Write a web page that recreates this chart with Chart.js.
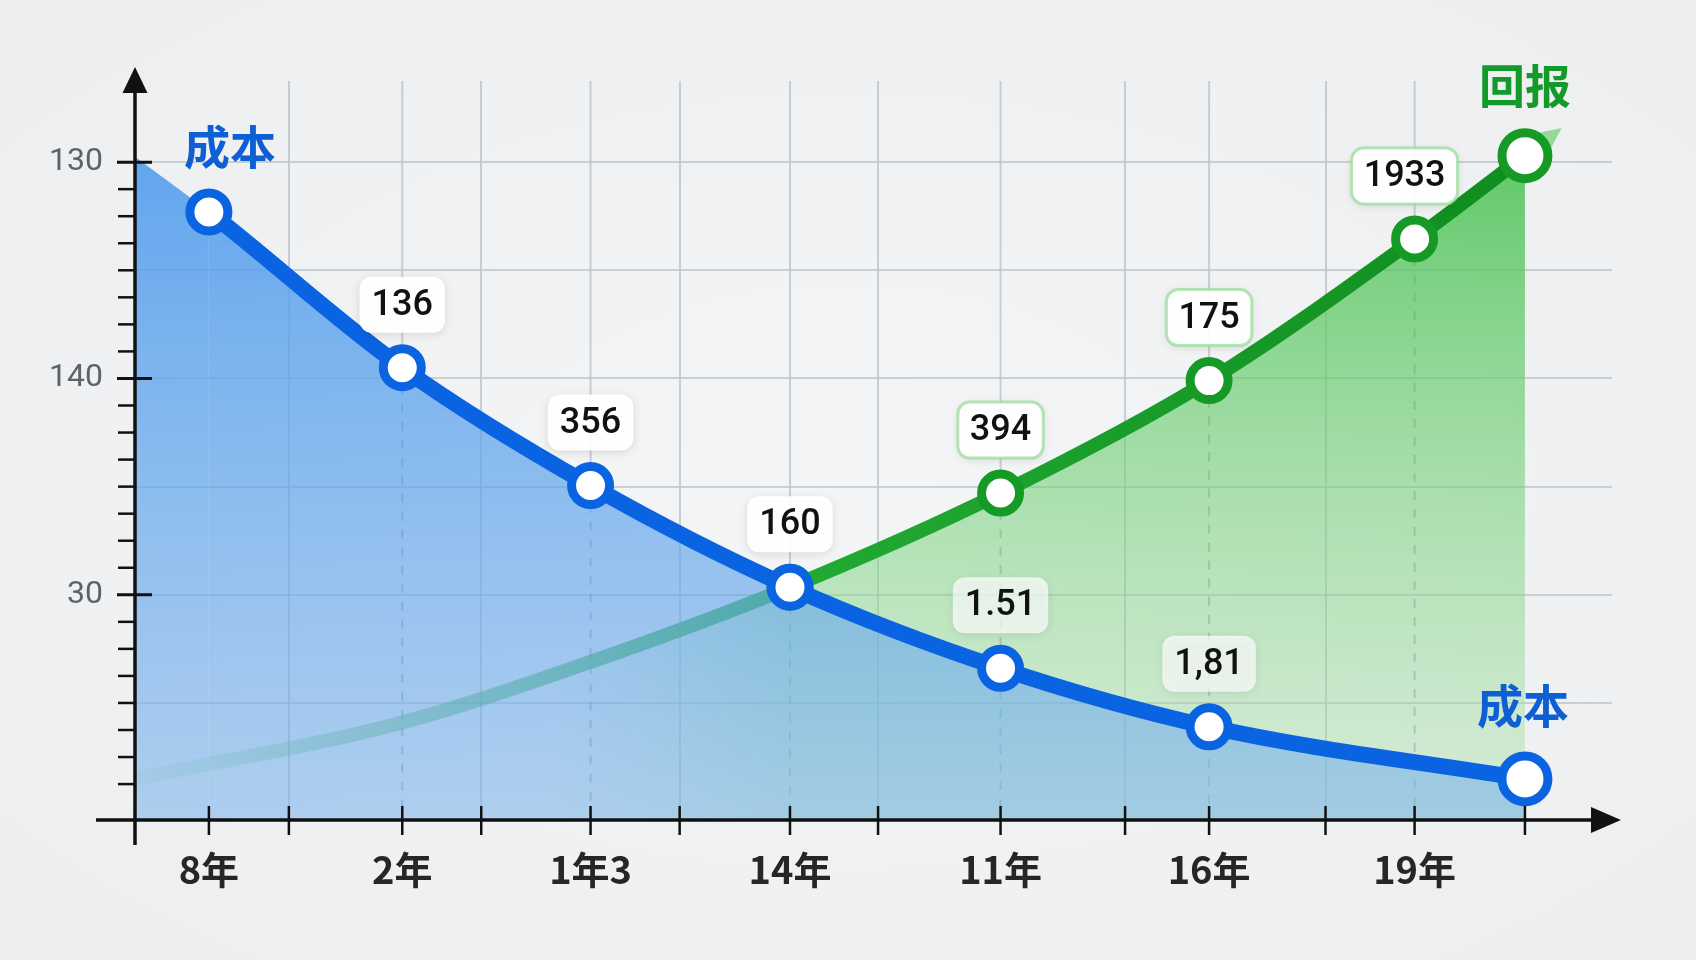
<!DOCTYPE html>
<html lang="zh">
<head>
<meta charset="utf-8">
<title>成本与回报</title>
<script src="https://cdn.jsdelivr.net/npm/chart.js@4.4.1/dist/chart.umd.min.js"></script>
<style>
  html, body { margin: 0; padding: 0; }
  body { background: radial-gradient(ellipse at center, #f4f5f6 0%, #eceeef 100%); }
  #wrap { width: 1696px; height: 960px; position: relative; }
</style>
</head>
<body>
<div id="wrap"><canvas id="chart"></canvas></div>
<script>
// year axis positions (first one = where both curves leave the vertical axis)
const years = [-0.73, 0, 1.91, 3.77, 5.74, 7.82, 9.88, 11.91, 13];
const yearLabels = ['', '8年', '2年', '1年3', '14年', '11年', '16年', '19年', ''];
const costValues = [50.25, 47.7, 40.5, 35.05, 30.35, 26.6, 23.9, null, 21.49];
const returnValues = [21.49, null, 24.1, 26.9, 30.35, 34.7, 39.9, 46.45, 50.3];
const costTags = ['', '', '136', '356', '160', '1.51', '1,81', '', ''];
const returnTags = ['', '', '', '', '', '394', '175', '1933', ''];
// extra grid positions between the labelled years
const gridYears = [0.79, 2.69, 4.65, 6.61, 9.05, 11.03];
const yTickValues = [30, 40, 50];
const yTickLabels = ['30', '140', '130'];

const BLUE = '#0a64e1';
const GREEN = '#1aa22b';
const last = years.length - 1;

function blueFill(context) {
    const chart = context.chart, a = chart.chartArea;
    if (!a) return 'rgba(90,160,236,0.7)';
    const g = chart.ctx.createLinearGradient(0, a.top, 0, a.bottom);
    g.addColorStop(0, 'rgba(66,148,237,0.88)');
    g.addColorStop(1, 'rgba(120,178,236,0.55)');
    return g;
}

function greenFill(context) {
    const chart = context.chart, a = chart.chartArea;
    if (!a) return 'rgba(80,190,80,0.5)';
    const c = document.createElement('canvas');
    c.width = chart.width; c.height = chart.height;
    const g = c.getContext('2d');
    const v = g.createLinearGradient(0, a.top + 60, 0, a.bottom);
    v.addColorStop(0, 'rgba(60,190,70,0.82)');
    v.addColorStop(1, 'rgba(170,225,170,0.35)');
    g.fillStyle = v;
    g.fillRect(0, 0, c.width, c.height);
    g.globalCompositeOperation = 'destination-in';
    const xs = chart.scales.x;
    const h = g.createLinearGradient(xs.getPixelForValue(3.4), 0, xs.getPixelForValue(5.74), 0);
    h.addColorStop(0, 'rgba(0,0,0,0)');
    h.addColorStop(1, 'rgba(0,0,0,1)');
    g.fillStyle = h;
    g.fillRect(0, 0, c.width, c.height);
    return chart.ctx.createPattern(c, 'no-repeat');
}

function greenStroke(context) {
    const chart = context.chart, a = chart.chartArea;
    if (!a) return GREEN;
    const xs = chart.scales.x;
    const g = chart.ctx.createLinearGradient(a.left, 0, a.right, 0);
    const mid = (xs.getPixelForValue(5.74) - a.left) / (a.right - a.left);
    g.addColorStop(0, 'rgba(27,163,43,0.05)');
    g.addColorStop(mid * 0.6, 'rgba(27,163,43,0.55)');
    g.addColorStop(mid, '#22aa33');
    g.addColorStop(1, '#0d8a1d');
    return g;
}

function drawTag(ctx, text, cx, cy, fill, stroke) {
    ctx.font = '500 36px Roboto';
    const w = ctx.measureText(text).width + 24, h = 56;
    ctx.save();
    ctx.shadowColor = 'rgba(0,0,0,0.12)';
    ctx.shadowBlur = 10;
    ctx.shadowOffsetY = 2;
    ctx.fillStyle = fill;
    ctx.beginPath();
    ctx.roundRect(cx - w / 2, cy - h / 2, w, h, 12);
    ctx.fill();
    ctx.restore();
    if (stroke) {
        ctx.strokeStyle = stroke;
        ctx.lineWidth = 3;
        ctx.beginPath();
        ctx.roundRect(cx - w / 2, cy - h / 2, w, h, 12);
        ctx.stroke();
    }
    ctx.fillStyle = '#111';
    ctx.textAlign = 'center';
    ctx.textBaseline = 'middle';
    ctx.fillText(text, cx, cy + 1);
}

function seg(ctx, x1, y1, x2, y2) {
    ctx.beginPath();
    ctx.moveTo(x1, y1);
    ctx.lineTo(x2, y2);
    ctx.stroke();
}

const decorations = {
    id: 'decorations',
    beforeDatasetsDraw(chart) {
        const {ctx, chartArea: a, scales: {x, y}} = chart;
        ctx.save();
        // grid lines through the marked years: solid above the top point, dashed below
        for (let i = 2; i < last; i++) {
            const px = x.getPixelForValue(years[i]);
            const hi = Math.max(costValues[i] ?? -Infinity, returnValues[i] ?? -Infinity);
            const py = y.getPixelForValue(hi);
            ctx.strokeStyle = 'rgba(190,195,201,0.8)';
            ctx.lineWidth = 2;
            ctx.setLineDash([]);
            seg(ctx, px, a.top, px, py);
            ctx.strokeStyle = 'rgba(95,115,135,0.45)';
            ctx.setLineDash([9, 9]);
            seg(ctx, px, py, px, a.bottom);
        }
        ctx.setLineDash([]);
        // small arrowhead past the last 回报 point
        const pts = chart.getDatasetMeta(1).data;
        const p = pts[last], q = pts[last - 1];
        const dx = p.x - q.x, dy = p.y - q.y, len = Math.hypot(dx, dy);
        const ux = dx / len, uy = dy / len;
        const bx = p.x + ux * 16, by = p.y + uy * 16;
        ctx.fillStyle = 'rgba(120,210,120,0.75)';
        ctx.beginPath();
        ctx.moveTo(p.x + ux * 46, p.y + uy * 46);
        ctx.lineTo(bx - uy * 14, by + ux * 14);
        ctx.lineTo(bx + uy * 14, by - ux * 14);
        ctx.closePath();
        ctx.fill();
        ctx.restore();
    },
    afterDatasetsDraw(chart) {
        const {ctx} = chart;
        ctx.save();
        const cost = chart.getDatasetMeta(0).data;
        const ret = chart.getDatasetMeta(1).data;
        costTags.forEach((t, i) => {
            if (!t) return;
            drawTag(ctx, t, cost[i].x, cost[i].y - 63, i > 4 ? 'rgba(255,255,255,0.7)' : 'rgba(255,255,255,0.95)');
        });
        returnTags.forEach((t, i) => {
            if (!t) return;
            drawTag(ctx, t, ret[i].x - (i === 7 ? 10 : 0), ret[i].y - 63, 'rgba(255,255,255,0.95)', 'rgba(150,220,150,0.7)');
        });
        ctx.font = 'bold 46px "Noto Sans CJK SC"';
        ctx.textAlign = 'center';
        ctx.textBaseline = 'middle';
        ctx.fillStyle = '#0e5fd3';
        ctx.fillText('成本', cost[1].x + 21, cost[1].y - 65);
        ctx.fillText('成本', cost[last].x - 2, cost[last].y - 73);
        ctx.fillStyle = '#149a2a';
        ctx.fillText('回报', ret[last].x, ret[last].y - 70);
        ctx.restore();
    },
    afterDraw(chart) {
        const {ctx, chartArea: a, scales: {x, y}} = chart;
        ctx.save();
        ctx.strokeStyle = '#111';
        ctx.fillStyle = '#111';
        ctx.lineCap = 'butt';
        // axes with arrows
        ctx.lineWidth = 3.5;
        seg(ctx, a.left - 39, a.bottom, a.right - 18, a.bottom);
        seg(ctx, a.left, a.bottom + 25, a.left, a.top + 12);
        ctx.beginPath();
        ctx.moveTo(a.right + 9, a.bottom);
        ctx.lineTo(a.right - 21, a.bottom - 13);
        ctx.lineTo(a.right - 21, a.bottom + 13);
        ctx.closePath();
        ctx.fill();
        ctx.beginPath();
        ctx.moveTo(a.left, a.top - 14);
        ctx.lineTo(a.left - 12.5, a.top + 12);
        ctx.lineTo(a.left + 12.5, a.top + 12);
        ctx.closePath();
        ctx.fill();
        // tick marks
        ctx.lineWidth = 2.5;
        x.ticks.forEach(t => {
            const px = x.getPixelForValue(t.value);
            seg(ctx, px, a.bottom - 14, px, a.bottom + 15);
        });
        y.ticks.forEach(t => {
            const py = y.getPixelForValue(t.value);
            if (yTickValues.includes(t.value)) {
                ctx.lineWidth = 3;
                seg(ctx, a.left - 18, py, a.left + 17, py);
            } else {
                ctx.lineWidth = 2.5;
                seg(ctx, a.left - 17, py, a.left, py);
            }
        });
        ctx.restore();
    }
};

new Chart(document.getElementById('chart'), {
    type: 'line',
    data: {
        datasets: [{
            label: '成本',
            data: years.map((x, i) => ({x, y: costValues[i]})),
            borderColor: BLUE,
            borderWidth: 16,
            backgroundColor: blueFill,
            fill: 'start',
            spanGaps: true,
            cubicInterpolationMode: 'monotone',
            segment: {
                borderColor: ctx => ctx.p0DataIndex === 0 ? 'rgba(0,0,0,0)' : undefined
            },
            pointRadius: ctx => ctx.dataIndex === 0 ? 0 : (ctx.dataIndex === last ? 23 : 19),
            pointBackgroundColor: '#fff',
            pointBorderColor: BLUE,
            pointBorderWidth: 9,
            order: 0
        }, {
            label: '回报',
            data: years.map((x, i) => ({x, y: returnValues[i]})),
            borderColor: greenStroke,
            borderWidth: 14,
            backgroundColor: greenFill,
            fill: 'start',
            spanGaps: true,
            cubicInterpolationMode: 'monotone',
            pointRadius: ctx => ctx.dataIndex < 4 ? 0 : (ctx.dataIndex === last ? 23 : 19),
            pointBackgroundColor: '#fff',
            pointBorderColor: '#159a26',
            pointBorderWidth: 9,
            order: 1
        }]
    },
    options: {
        responsive: true,
        maintainAspectRatio: false,
        animation: false,
        devicePixelRatio: 1,
        layout: {
            padding: { top: 81, right: 84, left: 0, bottom: 0 }
        },
        plugins: {
            legend: { display: false },
            tooltip: { enabled: false }
        },
        scales: {
            x: {
                type: 'linear',
                min: -0.73,
                max: 13.86,
                afterBuildTicks: scale => {
                    scale.ticks = years.slice(1).concat(gridYears)
                        .sort((p, q) => p - q)
                        .map(v => ({value: v}));
                },
                afterFit: scale => { scale.height = 140; },
                border: { display: false },
                grid: {
                    drawTicks: false,
                    lineWidth: 2,
                    color: ctx => ctx.tick && gridYears.includes(ctx.tick.value) ? 'rgba(190,195,201,0.8)' : 'rgba(0,0,0,0)'
                },
                ticks: {
                    autoSkip: false,
                    maxRotation: 0,
                    padding: 27,
                    color: '#262626',
                    font: { family: '"Noto Sans CJK SC"', size: 38, weight: 'bold' },
                    callback: value => {
                        const i = years.indexOf(value);
                        return i >= 0 ? yearLabels[i] : '';
                    }
                }
            },
            y: {
                min: 19.59,
                max: 53.75,
                afterBuildTicks: scale => {
                    const ticks = [];
                    for (let k = 1; k <= 24; k++) ticks.push({value: 20 + k * 1.25});
                    scale.ticks = ticks;
                },
                afterFit: scale => { scale.width = 135; },
                border: { display: false },
                grid: {
                    drawTicks: false,
                    lineWidth: 2,
                    color: ctx => ctx.tick && Number.isInteger(ctx.tick.value / 5) ? 'rgba(190,195,201,0.75)' : 'rgba(0,0,0,0)'
                },
                ticks: {
                    autoSkip: false,
                    padding: 32,
                    color: '#5f6368',
                    font: { family: 'Roboto', size: 32, weight: '400' },
                    callback: value => {
                        const i = yTickValues.indexOf(value);
                        return i >= 0 ? yTickLabels[i] : '';
                    }
                }
            }
        }
    },
    plugins: [decorations]
});
</script>
</body>
</html>
